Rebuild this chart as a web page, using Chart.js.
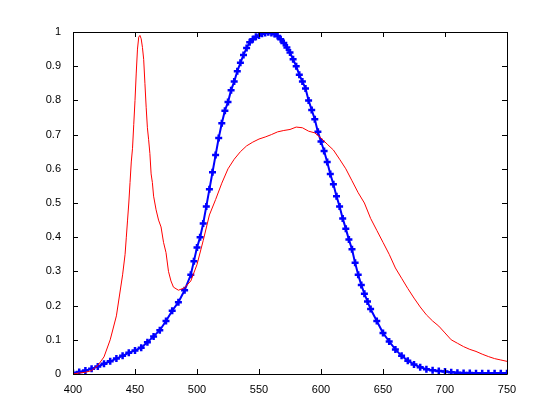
<!DOCTYPE html>
<html>
<head>
<meta charset="utf-8">
<script src="https://cdn.jsdelivr.net/npm/chart.js@4.4.1/dist/chart.umd.min.js"></script>
<style>
  body { margin: 0; background: #fff; }
  canvas { display: block; }
</style>
</head>
<body>
<canvas id="myChart" width="560" height="420"></canvas>
<script>
// red curve (source spectrum), wavelength in nm
const redWl = [400, 405, 410, 415, 420, 425, 430, 435, 440, 442, 443, 444, 445, 446, 447, 448, 449, 450,
  451, 452, 453, 454, 455, 456, 457, 458, 459, 460, 461, 462, 463, 464, 465, 467, 469, 471, 473, 475, 477, 479,
  481, 485, 490, 495, 500, 505, 510, 515, 520, 525, 530, 535, 540, 545, 550, 555, 560, 565, 570, 575, 580,
  585, 590, 595, 600, 605, 610, 615, 620, 625, 630, 635, 640, 645, 650, 655, 660, 665, 670, 675, 680, 685,
  690, 695, 700, 705, 710, 715, 720, 725, 730, 735, 740, 745, 750];
const redVal = [0.0, 0.003, 0.005, 0.01, 0.025, 0.05, 0.10, 0.17, 0.29, 0.35, 0.40, 0.45, 0.50, 0.56, 0.62, 0.66, 0.73, 0.80,
  0.88, 0.95, 0.985, 0.99, 0.98, 0.955, 0.92, 0.85, 0.78, 0.72, 0.685, 0.645, 0.585, 0.56, 0.52, 0.48, 0.45, 0.43, 0.385, 0.355, 0.30, 0.272,
  0.254, 0.245, 0.252, 0.272, 0.32, 0.39, 0.465, 0.51, 0.558, 0.60, 0.628, 0.65, 0.667, 0.678, 0.687, 0.693, 0.70, 0.708, 0.712, 0.715, 0.722,
  0.72, 0.71, 0.705, 0.69, 0.672, 0.655, 0.628, 0.60, 0.565, 0.53, 0.50, 0.455, 0.42, 0.385, 0.35, 0.31, 0.28, 0.25, 0.222, 0.196, 0.173,
  0.155, 0.14, 0.12, 0.10, 0.09, 0.08, 0.072, 0.066, 0.058, 0.051, 0.045, 0.041, 0.037];

// blue curve (sensitivity), 2.5 nm steps where it is steep
const blueWl = [400, 405, 410, 415, 420, 425, 430, 435, 440, 445, 450, 455, 460, 465, 470, 475, 480, 485, 490, 495,
  497.5, 500, 502.5, 505, 507.5, 510, 512.5, 515, 517.5, 520, 522.5, 525, 527.5, 530, 532.5, 535, 537.5, 540,
  542.5, 545, 547.5, 550, 552.5, 555, 557.5, 560, 562.5, 565, 567.5, 570, 572.5, 575, 577.5, 580, 582.5, 585,
  587.5, 590, 592.5, 595, 597.5, 600, 602.5, 605, 607.5, 610, 612.5, 615, 617.5, 620, 622.5, 625, 627.5, 630,
  632.5, 635, 637.5, 640, 645, 650, 655, 660, 665, 670, 675, 680, 685, 690, 695,
  700, 705, 710, 715, 720, 725, 730, 735, 740, 745, 750];
const blueVal = [0.003, 0.006, 0.010, 0.015, 0.022, 0.03, 0.037, 0.045, 0.053, 0.062, 0.069, 0.077, 0.093, 0.11, 0.128, 0.155, 0.185, 0.21, 0.245, 0.29,
  0.33, 0.37, 0.40, 0.44, 0.49, 0.54, 0.59, 0.64, 0.69, 0.733, 0.77, 0.795, 0.83, 0.855, 0.885, 0.91, 0.933, 0.953,
  0.97, 0.979, 0.986, 0.99, 0.995, 0.997, 0.999, 0.997, 0.994, 0.988, 0.979, 0.968, 0.955, 0.94, 0.92, 0.90, 0.875, 0.855,
  0.835, 0.80, 0.772, 0.745, 0.708, 0.68, 0.652, 0.62, 0.585, 0.555, 0.52, 0.49, 0.455, 0.425, 0.393, 0.365, 0.325, 0.29,
  0.26, 0.235, 0.212, 0.19, 0.155, 0.12, 0.095, 0.072, 0.053, 0.039, 0.028, 0.02, 0.014, 0.011, 0.009,
  0.007, 0.005, 0.004, 0.003, 0.003, 0.002, 0.002, 0.002, 0.002, 0.002, 0.002];

const xTicks = [400, 450, 500, 550, 600, 650, 700, 750];
const yTicks = [0, 0.1, 0.2, 0.3, 0.4, 0.5, 0.6, 0.7, 0.8, 0.9, 1];

function pairs(xs, ys) {
  return xs.map((x, i) => ({ x: x, y: ys[i] }));
}

// matlab style box with inward ticks on all sides
const boxPlugin = {
  id: 'box',
  afterDraw(chart) {
    const c = chart.ctx;
    const a = chart.chartArea;
    const xs = chart.scales.x, ys = chart.scales.y;
    c.save();
    c.strokeStyle = '#000';
    c.lineWidth = 1;
    c.beginPath();
    c.rect(Math.round(a.left) + 0.5, Math.round(a.top) + 0.5, Math.round(a.right - a.left), Math.round(a.bottom - a.top));
    xTicks.forEach(v => {
      const px = Math.round(xs.getPixelForValue(v)) + 0.5;
      c.moveTo(px, a.bottom); c.lineTo(px, a.bottom - 5);
      c.moveTo(px, a.top); c.lineTo(px, a.top + 5);
    });
    yTicks.forEach(v => {
      const py = Math.round(ys.getPixelForValue(v)) + 0.5;
      c.moveTo(a.left, py); c.lineTo(a.left + 5, py);
      c.moveTo(a.right, py); c.lineTo(a.right - 5, py);
    });
    c.stroke();
    c.restore();
  }
};

const ctx = document.getElementById('myChart');
new Chart(ctx, {
  type: 'line',
  data: {
    datasets: [{
      data: pairs(redWl, redVal),
      borderColor: 'rgb(255, 0, 0)',
      borderWidth: 1,
      pointRadius: 0,
      tension: 0
    }, {
      data: pairs(blueWl, blueVal),
      borderColor: 'rgb(0, 0, 255)',
      borderWidth: 2,
      pointStyle: 'cross',
      pointRadius: 3.5,
      pointBorderWidth: 2.5,
      pointBorderColor: 'rgb(0, 0, 255)',
      pointBackgroundColor: 'rgb(0, 0, 255)',
      tension: 0
    }]
  },
  options: {
    responsive: false,
    animation: false,
    events: [],
    layout: { padding: { top: 32, right: 53, left: 0, bottom: 0 } },
    plugins: { legend: { display: false }, tooltip: { enabled: false } },
    scales: {
      x: {
        type: 'linear', min: 400, max: 750,
        afterBuildTicks: s => { s.ticks = xTicks.map(v => ({ value: v })); },
        afterFit: s => { s.height = 46; },
        grid: { display: false },
        border: { display: false },
        ticks: { color: '#000', padding: 1, maxRotation: 0, font: { family: 'Liberation Sans', size: 11 },
          callback: v => String(v) }
      },
      y: {
        type: 'linear', min: 0, max: 1,
        afterBuildTicks: s => { s.ticks = yTicks.map(v => ({ value: v })); },
        afterFit: s => { s.width = 73; },
        grid: { display: false },
        border: { display: false },
        ticks: { color: '#000', padding: 4, font: { family: 'Liberation Sans', size: 11 },
          callback: v => String(v) }
      }
    }
  },
  plugins: [boxPlugin]
});
</script>
</body>
</html>
